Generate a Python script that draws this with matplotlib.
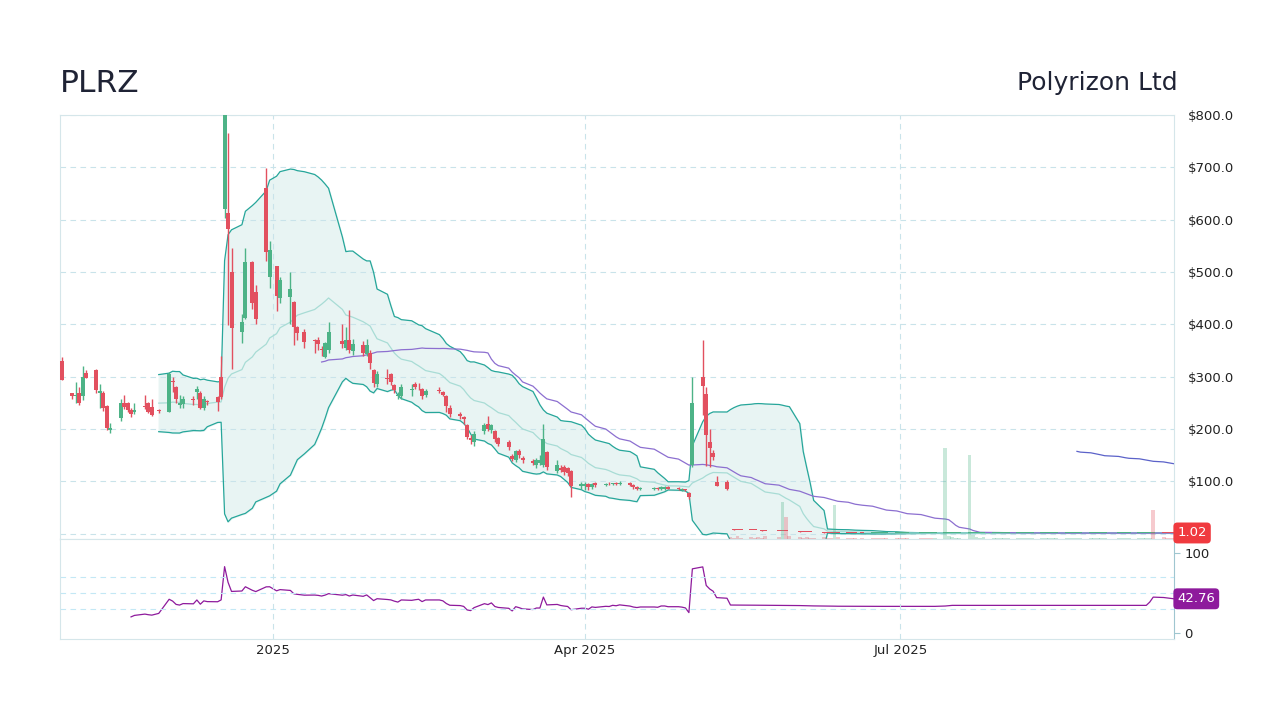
import numpy as np
import pandas as pd
import matplotlib
matplotlib.use("Agg")
import matplotlib.pyplot as plt
import matplotlib.dates as mdates
from matplotlib.ticker import FuncFormatter

# ---------------- data ----------------
opens = [330,268,263,268,263,306,312,268,268,243,198,221,250,250,237,233,244,250,242,236,
         233,291,280,245,247,258,270,268,240,253,260,300,620,612,500,385,412,519,461,660,
         490,511,450,452,442,395,385,370,370,353,338,350,368,355,370,348,360,343,345,312,
         285,297,305,283,262,262,274,285,284,277,265,274,270,262,240,228,222,207,182,175,
         195,210,198,195,183,175,148,140,158,145,138,130,135,130,155,120,125,128,125,120,90,90,
         95,88,96,93,95,95,96,95,97,93,88,86,85,87,85,86,88,87,84,84,78,130,300,
         267,175,154,98,98]
highs = [338,268,290,280,320,312,315,285,272,245,212,258,265,252,240,250,265,252,258,238,
         308,300,282,265,262,262,282,272,262,255,262,340,800,765,545,420,545,520,475,698,
         560,512,490,500,445,397,390,372,375,358,366,405,400,395,428,372,368,372,350,315,
         310,315,307,286,270,285,285,290,287,278,276,280,272,264,245,232,225,210,188,195,
         212,225,210,198,185,178,152,160,162,148,142,145,150,210,158,140,130,130,128,122,98,98,
         97,97,98,97,99,97,98,100,98,95,90,89,89,88,90,90,90,89,87,86,80,300,370,
         280,200,160,110,102]
lows = [300,258,250,245,255,297,268,240,235,198,192,215,238,232,222,228,238,230,225,230,
        232,270,250,240,240,246,258,238,236,245,235,258,603,398,315,365,410,430,400,520,
        470,425,440,400,360,370,355,345,350,340,335,345,355,350,345,342,340,340,315,280,
        280,285,283,268,258,258,262,276,275,258,260,268,262,232,222,218,210,180,172,168,
        190,196,192,175,168,160,138,136,145,134,130,125,130,128,122,115,118,112,110,70,85,84,
        84,85,89,90,92,92,93,92,90,85,83,84,83,84,83,84,85,84,82,81,66,127,227,
        129,128,140,90,84]
closes = [293,262,265,250,300,297,274,272,240,201,201,250,242,237,229,236,242,233,227,234,
          305,289,257,250,258,256,276,240,258,252,251,260,800,582,393,404,519,440,410,538,
          541,454,484,467,395,383,366,368,362,350,364,385,362,370,350,362,345,360,326,287,
          305,295,290,275,264,280,276,280,283,262,272,272,265,243,228,225,218,185,178,190,
          207,200,207,180,172,165,142,158,150,140,135,140,140,180,128,130,122,118,115,90,95,95,
          88,95,92,95,94,97,95,97,92,88,86,87,87,86,88,88,86,86,85,83,70,250,282,
          188,163,146,91,85]
tail_closes = [8.0,7.5,7.2,6.8,6.5,6.2,6.0,5.6,5.2,5.0,4.7,4.4,4.0,3.6,3.2,2.8,2.4,2.0,1.7,1.5,
               1.3,1.1,0.9,0.75,0.65,0.58,0.55,0.55,0.55,0.55,0.55,0.55,0.55,0.55,0.55,0.55,0.55,0.55,0.55,0.55,
               0.55,0.68,0.80,0.90,0.90,0.90,0.90,0.90,0.90,0.90,0.90,0.90,0.90,0.90,0.90,0.90,0.90,0.90,0.90,0.90,
               0.90,0.90,0.90,0.90,0.90,0.90,0.90,0.90,0.90,0.90,0.90,0.90,0.90,0.90,0.90,0.90,0.90,0.90,0.90,0.90,
               0.90,0.90,0.90,0.96,1.06,1.05,1.04,1.03,1.02]
tail_opens = [9.0,8.0,7.5,7.2,6.8,6.5,6.2,6.0,5.6,5.2,5.0,4.7,4.4,4.0,3.6,3.2,2.8,2.4,2.0,1.7,
              1.5,1.3,1.1,0.9,0.75,0.65,0.58,0.55,0.55,0.55,0.55,0.55,0.55,0.55,0.55,0.55,0.55,0.55,0.55,0.55,
              0.55,0.55,0.68,0.80,0.90,0.90,0.90,0.90,0.90,0.90,0.90,0.90,0.90,0.90,0.90,0.90,0.90,0.90,0.90,0.90,
              0.90,0.90,0.90,0.90,0.90,0.90,0.90,0.90,0.90,0.90,0.90,0.90,0.90,0.90,0.90,0.90,0.90,0.90,0.90,0.90,
              0.90,0.90,0.90,0.90,0.96,1.06,1.05,1.04,1.03]
tail_volume = [3,2,4,2,3,2,3,2,4,3,52,30,4,3,2,3,2,2,3,2,
               2,48,3,2,2,1,2,1,1,1,1,1,1,1,1,1,1,1,1,1,
               2,126,4,3,2,2,117,5,3,2,3,2,1,1,1,1,1,1,1,1,
               1,1,1,1,1,1,1,1,1,1,1,1,1,1,1,1,1,1,1,1,
               1,1,1,1,40,3,1,1,1]
tail_volume_up = [0,0,0,0,0,0,0,0,0,0,1,0,0,0,0,0,0,0,0,0,
                  0,1,0,0,0,0,0,0,0,0,0,0,0,0,0,0,0,0,0,0,
                  1,1,1,1,1,1,1,1,1,1,1,1,1,1,1,1,1,1,1,1,
                  1,1,1,1,1,1,1,1,1,1,1,1,1,1,1,1,1,1,1,1,
                  1,1,1,1,0,0,0,0,0]
main_volume_level = 0.6
holidays = ["2024-11-28", "2024-12-25", "2025-01-01", "2025-01-09", "2025-01-20",
            "2025-02-17", "2025-04-18", "2025-05-26", "2025-06-19", "2025-07-04", "2025-09-01"]

# ---------------- build frame ----------------
o = np.array(opens + tail_opens, float)
c = np.array(closes + tail_closes, float)
h = np.maximum(np.array(highs + [max(a, b) * 1.02 for a, b in zip(tail_opens, tail_closes)], float), np.maximum(o, c))
l = np.minimum(np.array(lows + [min(a, b) * 0.98 for a, b in zip(tail_opens, tail_closes)], float), np.minimum(o, c))
vol = np.array([main_volume_level] * len(closes) + tail_volume, float)
vup = [cc >= oo for oo, cc in zip(opens, closes)] + [bool(u) for u in tail_volume_up]
bdays = pd.bdate_range("2024-11-01", "2025-12-31")
bdays = bdays[~bdays.isin(pd.to_datetime(holidays))]
dates = bdays[:len(c)]
x = mdates.date2num(dates)

s = pd.Series(c)
mid = s.rolling(20).mean()
sd = s.rolling(20).std(ddof=0)
up, lo = mid + 2 * sd, mid - 2 * sd
sma50 = s.rolling(50).mean()
sma200 = s.rolling(200).mean()

d = s.diff()
gain = d.clip(lower=0)
loss = -d.clip(upper=0)
ag = gain.ewm(alpha=1/14, adjust=False, min_periods=14).mean()
al = loss.ewm(alpha=1/14, adjust=False, min_periods=14).mean()
rsi = 100 - 100 / (1 + ag / al)

# ---------------- figure ----------------
GREEN = "#4db387"
RED = "#e2505f"
TEAL = "#26a69a"
GRID = "#c9e3ea"
fig = plt.figure(figsize=(12.8, 7.2), dpi=100)
ax = fig.add_axes([60/1280, 1-539/720, 1114/1280, 424/720])
axr = fig.add_axes([60/1280, 1-639/720, 1114/1280, 100/720], sharex=ax)

xmin = mdates.date2num(pd.Timestamp("2024-10-31 12:00"))
xmax = mdates.date2num(pd.Timestamp("2025-09-18"))

# bands
ax.fill_between(x, lo, up, color="#e8f4f3", zorder=1)
ax.plot(x, up, color=TEAL, lw=0.9, zorder=2)
ax.plot(x, lo, color=TEAL, lw=0.9, zorder=2)
ax.plot(x, mid, color="#a8dcd5", lw=0.9, zorder=2)
ax.plot(x, sma50, color="#8c6fd0", lw=0.9, zorder=2)
ax.plot(x, sma200, color="#5b62c9", lw=0.9, zorder=2)

# candles
col = np.where(c >= o, GREEN, RED)
ax.vlines(x, l, h, colors=col, lw=1.0, zorder=3)
body = np.abs(c - o)
body = np.maximum(body, 1.5)
ax.bar(x, body, bottom=np.minimum(o, c), width=1.15, color=col, zorder=4)

# volume (on top, translucent)
axv = ax.twinx()
vcol = [GREEN if u else RED for u in vup]
axv.bar(x, vol, width=1.1, color=vcol, alpha=0.3, zorder=1)
axv.set_ylim(0, 590)
axv.axis("off")
axv.patch.set_visible(False)

ax.set_xlim(xmin, xmax)
ax.set_ylim(-10.5, 800)
ax.yaxis.tick_right()
ax.yaxis.set_major_locator(plt.MultipleLocator(100))
ax.yaxis.set_major_formatter(FuncFormatter(lambda v, p: f"${v:.1f}" if v >= 100 else ""))
ax.tick_params(axis="y", labelsize=9.5, length=0, colors="#222222", pad=10)
ax.tick_params(axis="x", length=0, labelbottom=False)
ax.grid(True, color=GRID, ls=(0, (5, 4)), lw=0.8)
ticks = mdates.date2num([pd.Timestamp("2025-01-01"), pd.Timestamp("2025-04-01"), pd.Timestamp("2025-07-01")])
ax.set_xticks(ticks)
for sp in ax.spines.values():
    sp.set_color("#d5e6ea")

last = c[-1]
axv.text(1.003, (last + 10.5) / 810.5, f"{last:.2f}", transform=ax.transAxes, color="white",
         fontsize=9.5, va="center", ha="left",
         bbox=dict(boxstyle="round,pad=0.3", fc="#f03a3f", ec="none"))

# RSI
axr.plot(x, rsi, color="#8e1a9c", lw=0.9)
axr.set_ylim(-7.5, 117.5)
axr.set_yticks([0, 100])
axr.yaxis.tick_right()
axr.tick_params(axis="y", labelsize=9.5, colors="#222222", length=4, color="#9fc6d0")
for yv in [30, 50, 70]:
    axr.axhline(yv, color="#c3e8f5", ls=(0, (5, 4)), lw=0.8)
for tv in ticks:
    axr.axvline(tv, color=GRID, ls=(0, (5, 4)), lw=0.8)
axr.set_xticks(ticks)
axr.set_xticklabels(["2025", "Apr 2025", "Jul 2025"])
axr.tick_params(axis="x", length=0, labelsize=9.5, colors="#222222")
for sp in axr.spines.values():
    sp.set_color("#d5e6ea")
axr.spines["right"].set_color("#9fc6d0")
lr = rsi.iloc[-1]
axr.text(1.003, (lr + 7.5) / 125, f"{lr:.2f}", transform=axr.transAxes, color="white",
         fontsize=9.5, va="center", ha="left",
         bbox=dict(boxstyle="round,pad=0.3", fc="#8e1a9c", ec="none"))

fig.text(60/1280, 1-83/720, "PLRZ", fontsize=22.5, color="#1f2335", va="center", ha="left")
fig.text(1178/1280, 1-83/720, "Polyrizon Ltd", fontsize=18, color="#1f2335", va="center", ha="right")

fig.savefig("out.png", dpi=100, facecolor="white")
